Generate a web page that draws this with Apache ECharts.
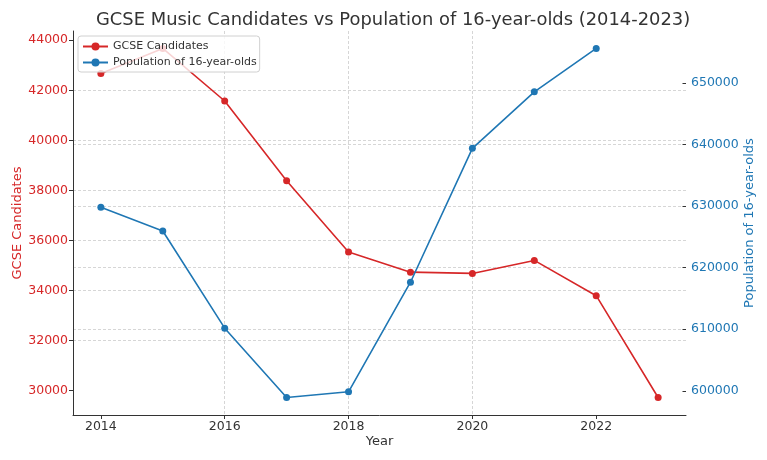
<!DOCTYPE html>
<html>
<head>
<meta charset="utf-8">
<script src="https://cdn.jsdelivr.net/npm/echarts/dist/echarts.min.js"></script>
<style>
html,body{margin:0;padding:0;background:#fff;}
#chart{width:767px;height:460px;}
</style>
</head>
<body>
<div id="chart"></div>
<script>
const years = [2014, 2015, 2016, 2017, 2018, 2019, 2020, 2021, 2022, 2023];
const candidates = [42670, 43670, 41570, 38380, 35540, 34730, 34680, 35200, 33790, 29720];
const population = [629800, 625950, 610170, 598910, 599840, 617630, 639360, 648540, 655580, null];
const xTicks = [2014, 2016, 2018, 2020, 2022];
const leftTicks = [30000, 32000, 34000, 36000, 38000, 40000, 42000, 44000];
const rightTicks = [600000, 610000, 620000, 630000, 640000, 650000];

const RED = '#d62728';
const BLUE = '#1f77b4';
const FONT = 'DejaVu Sans';

const candData = years.map((y, i) => [y, candidates[i]]);
const popData = years.map((y, i) => population[i] == null ? null : [y, population[i]]).filter(d => d);

const gridLine = { show: true, showMinLine: false, showMaxLine: false,
  lineStyle: { color: '#cccccc', type: [3, 2], width: 0.8 } };

const chart = echarts.init(document.getElementById('chart'), null, { renderer: 'canvas' });
chart.setOption({
  backgroundColor: '#fff',
  animation: false,
  textStyle: { fontFamily: FONT },
  title: {
    text: 'GCSE Music Candidates vs Population of 16-year-olds (2014-2023)',
    left: 96, top: 11, padding: 0,
    textStyle: { fontFamily: FONT, fontSize: 17.9, fontWeight: 'normal', color: '#333' }
  },
  legend: {
    orient: 'vertical', left: 78, top: 36,
    padding: [5, 3, 4, 4], itemGap: 5, itemWidth: 25, itemHeight: 10,
    backgroundColor: 'rgba(255,255,255,0.8)', borderColor: '#d0d0d0', borderWidth: 1, borderRadius: 3,
    textStyle: { fontFamily: FONT, fontSize: 11, color: '#333' },
    data: ['GCSE Candidates', 'Population of 16-year-olds']
  },
  grid: { left: 73, right: 81, top: 31, bottom: 45, containLabel: false, outerBoundsMode: 'none' },
  xAxis: {
    type: 'value', min: 2013.55, max: 2023.45, splitNumber: 5,
    name: 'Year', nameLocation: 'middle', nameGap: 20, nameMoveOverlap: false,
    nameTextStyle: { fontFamily: FONT, fontSize: 13, color: '#333' },
    axisLine: { show: true, onZero: false, lineStyle: { color: '#333', width: 1 } },
    axisTick: { show: true, length: 4, customValues: xTicks, lineStyle: { color: '#333' } },
    axisLabel: { customValues: xTicks, margin: 5, fontSize: 12.5, color: '#333', fontFamily: FONT,
      formatter: v => String(v) },
    splitLine: gridLine
  },
  yAxis: [
    {
      type: 'value', position: 'left', min: 29022, max: 44368, splitNumber: 7,
      name: 'GCSE Candidates', nameLocation: 'middle', nameGap: 49, nameRotate: 90, nameMoveOverlap: false,
      nameTextStyle: { fontFamily: FONT, fontSize: 13, color: RED },
      axisLine: { show: true, onZero: false, lineStyle: { color: '#333', width: 1 } },
      axisTick: { show: true, length: 4, customValues: leftTicks, lineStyle: { color: '#333' } },
      axisLabel: { customValues: leftTicks, margin: 5, fontSize: 12.5, color: RED, fontFamily: FONT,
        formatter: v => String(v) },
      splitLine: gridLine
    },
    {
      type: 'value', position: 'right', min: 596076, max: 658414, splitNumber: 6,
      name: 'Population of 16-year-olds', nameLocation: 'middle', nameGap: 57, nameRotate: 90, nameMoveOverlap: false,
      nameTextStyle: { fontFamily: FONT, fontSize: 13, color: BLUE },
      axisLine: { show: false },
      axisTick: { show: true, inside: true, length: 3.5, customValues: rightTicks, lineStyle: { color: '#333' } },
      axisLabel: { customValues: rightTicks, margin: 5, fontSize: 12.5, color: BLUE, fontFamily: FONT,
        formatter: v => String(v) },
      splitLine: gridLine
    }
  ],
  series: [
    {
      name: 'GCSE Candidates', type: 'line', yAxisIndex: 0, data: candData,
      symbol: 'circle', symbolSize: 7, color: RED,
      lineStyle: { width: 1.6, color: RED }, itemStyle: { color: RED }, z: 2
    },
    {
      name: 'Population of 16-year-olds', type: 'line', yAxisIndex: 1, data: popData,
      symbol: 'circle', symbolSize: 7, color: BLUE,
      lineStyle: { width: 1.6, color: BLUE }, itemStyle: { color: BLUE }, z: 3
    }
  ]
});
</script>
</body>
</html>
